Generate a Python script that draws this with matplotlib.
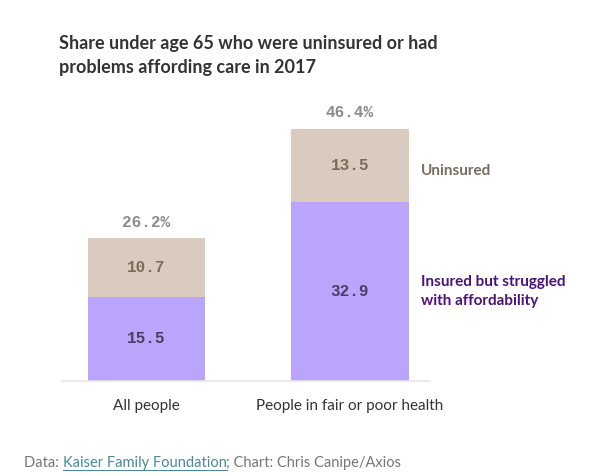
import matplotlib.pyplot as plt
from matplotlib.lines import Line2D

# data
groups = ['All people', 'People in fair or poor health']
insured_struggled = [15.5, 32.9]
uninsured = [10.7, 13.5]
totals = [26.2, 46.4]

purple = '#bba4fc'
tan = '#d9cbbd'
sans = ['Lato', 'DejaVu Sans']
mono = ['Liberation Mono', 'DejaVu Sans Mono']

fig = plt.figure(figsize=(6.06, 4.76), dpi=100)
ax = fig.add_axes([62 / 606, 1 - 381 / 476, 368 / 606, 281 / 476])

x = list(range(len(groups)))
ax.bar(x, insured_struggled, width=0.575, color=purple)
ax.bar(x, uninsured, width=0.575, bottom=insured_struggled, color=tan)

for i in x:
    ax.text(i, insured_struggled[i] / 2, f'{insured_struggled[i]:.1f}', ha='center', va='center',
            family=mono, fontsize=11.5, fontweight='bold', color='#4a3f5e')
    ax.text(i, insured_struggled[i] + uninsured[i] / 2, f'{uninsured[i]:.1f}', ha='center', va='center',
            family=mono, fontsize=11.5, fontweight='bold', color='#7d6c5c')
    ax.text(i, totals[i] + 1.6, f'{totals[i]:.1f}%', ha='center', va='bottom',
            family=mono, fontsize=11.5, fontweight='bold', color='#8c8c8c')

# side labels next to second bar
ax.text(1.35, insured_struggled[1] + uninsured[1] / 2 - 1.1, 'Uninsured', ha='left', va='center',
        family=sans, fontsize=11, fontweight='bold', color='#7b6a5e', clip_on=False)
ax.text(1.35, insured_struggled[1] / 2, 'Insured but struggled\nwith affordability', ha='left',
        va='center', family=sans, fontsize=11, fontweight='bold', color='#4d127c',
        linespacing=1.45, clip_on=False)

ax.set_xlim(-0.415, 1.393)
ax.set_ylim(0, 51.65)
ax.set_xticks(x)
ax.set_xticklabels(groups, family=sans, fontsize=11, color='#333333')
ax.tick_params(axis='x', length=0, pad=13)
ax.set_yticks([])
for s in ['top', 'right', 'left']:
    ax.spines[s].set_visible(False)
ax.spines['bottom'].set_color('#e6e6e6')
ax.spines['bottom'].set_linewidth(1.2)

fig.text(59 / 606, 1 - 55 / 476, 'Share under age 65 who were uninsured or had\nproblems affording care in 2017',
         ha='left', va='center', family=sans, fontsize=13, fontweight='bold', color='#333333',
         linespacing=1.5)

# footer with underlined source
fig.canvas.draw()
r = fig.canvas.get_renderer()
fy = 1 - 467 / 476
fs = 10.5
t1 = fig.text(24 / 606, fy, 'Data: ', family=sans, fontsize=fs, color='#777777', va='baseline')
bb = t1.get_window_extent(r)
t2 = fig.text(bb.x1 / 606, fy, 'Kaiser Family Foundation', family=sans, fontsize=fs,
              color='#4a8a96', va='baseline')
bb2 = t2.get_window_extent(r)
fig.text(bb2.x1 / 606, fy, '; Chart: Chris Canipe/Axios', family=sans, fontsize=fs,
         color='#777777', va='baseline')
fig.add_artist(Line2D([bb2.x0 / 606, bb2.x1 / 606], [fy - 3 / 476, fy - 3 / 476],
                      color='#4a8a96', linewidth=0.8))

fig.savefig('out.png', dpi=100)
